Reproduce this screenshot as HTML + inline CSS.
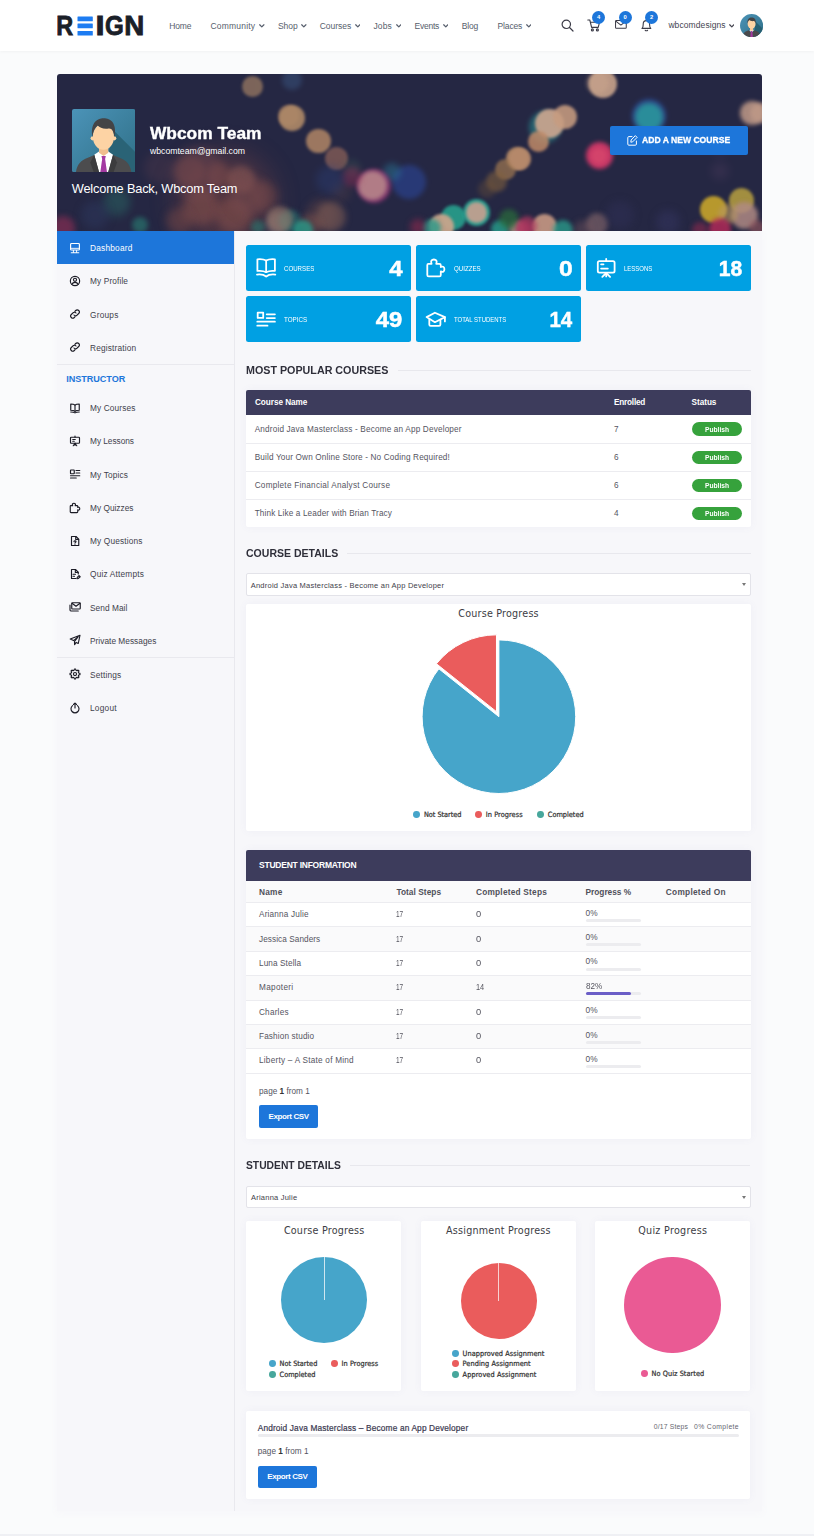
<!DOCTYPE html>
<html lang="en">
<head>
<meta charset="utf-8">
<title>Reign - Instructor Dashboard</title>
<style>
*{box-sizing:border-box;margin:0;padding:0}
html,body{width:814px;height:1536px;overflow:hidden;background:#fafbfc;font-family:"Liberation Sans",sans-serif;color:#4d4d5b}
#pg{position:relative;width:814px;height:1536px;overflow:hidden;background:#fafbfc}
.a{position:absolute;white-space:nowrap;line-height:1}
/* header */
#hdr{left:0;top:0;width:814px;height:51px;background:#fff;box-shadow:0 1px 3px rgba(0,0,0,.04)}
.nav{font-size:8.4px;color:#555d6b;top:21.6px}
.chev{display:inline-block;width:3.6px;height:3.6px;border-right:1px solid #4b4b57;border-bottom:1px solid #4b4b57;transform:rotate(45deg);margin-left:4px;position:relative;top:-2px}
.badge{width:13px;height:13px;border-radius:50%;background:#1d76da;color:#fff;font-size:5.8px;font-weight:bold;text-align:center;line-height:13px;top:11.2px}
/* banner */
#ban{left:57px;top:74.2px;width:705px;height:156.8px;border-radius:3px 3px 0 0;background:#252743;overflow:hidden}
.bk{position:absolute;border-radius:50%;filter:blur(1.6px)}
/* main */
#main{left:57px;top:231px;width:705px;height:1280px;background:#f7f7fa}
#vline{left:234px;top:231px;width:1px;height:1280px;background:#e9e9ee}
.sb{left:57px;width:177px;height:33.3px}
.sb span{position:absolute;left:33px;top:11.5px;font-size:8.3px;color:#3f3f4c;line-height:1}
.sb svg{position:absolute;left:12px;top:10.5px;width:12px;height:12px;fill:none;stroke:#1e1e28;stroke-width:1.7;stroke-linecap:round;stroke-linejoin:round}
.sb.on{background:#1d76da}
.sb.on span{color:#fff}
.sb.on svg{stroke:#fff}

.w{color:#fff}
#addbtn{left:610px;top:126.2px;width:138px;height:28.8px;background:#1d76da;border-radius:2px}
.stat{background:#00a0e3;border-radius:2.5px;height:46px;width:164.5px}
.stat .lb{position:absolute;left:37px;top:20.2px;font-size:6.1px;color:#fff;line-height:1;letter-spacing:-.1px}
.stat .nm{position:absolute;right:8.5px;top:11.5px;font-size:22.5px;font-weight:bold;color:#fff;line-height:1;letter-spacing:-.6px}
.stat svg{position:absolute;left:10px;top:13.5px;width:20px;height:20px;fill:none;stroke:#fff;stroke-width:1.5;stroke-linecap:round;stroke-linejoin:round}
.h2{font-size:11.1px;font-weight:bold;color:#2f2f3a;left:246px}
.hl{height:1px;background:#e8e8ed}
.card{background:#fff;border-radius:2px;box-shadow:0 0 9px rgba(95,95,170,.06)}
.th{background:#3d3c5c;border-radius:2px 2px 0 0}
.thx{font-size:8.2px;font-weight:bold;color:#fff}
.td{font-size:8.2px;color:#55555f}
.sep{height:1px;background:#ececf0;left:246px;width:504.5px}
.pub{width:50.2px;height:13.6px;border-radius:7px;background:#36a23c;color:#fff;font-size:7px;font-weight:bold;text-align:center;line-height:13.4px;left:691.8px}
.sel{left:246px;width:504.5px;height:22.8px;background:#fff;border:1px solid #e3e3e9;border-radius:2px}
.selt{font-size:6.9px;color:#4a4a55;left:251px}
.tri{width:0;height:0;border-left:2px solid transparent;border-right:2px solid transparent;border-top:3px solid #777}
.ct{font-family:"DejaVu Sans",sans-serif;color:#3c3c44}
.lg{font-family:"DejaVu Sans Condensed","DejaVu Sans",sans-serif;font-weight:normal;color:#333;-webkit-text-stroke:.22px #333}
.dot{width:6.8px;height:6.8px;border-radius:50%}
.btn{background:#1d76da;border-radius:2px;color:#fff;font-size:7.6px;font-weight:bold;text-align:center;width:59px;height:22px;line-height:22px}
.pbar{height:3.4px;border-radius:2px;background:#ececef}
.sm{font-size:7.9px;color:#55555f}
</style>
</head>
<body>
<div id="pg">

<!-- ================= HEADER ================= -->
<div id="hdr" class="a"></div>
<div id="logo" class="a" style="left:57px;top:14.5px;width:88px;height:22px">
<svg width="88" height="22" viewBox="0 0 88 22" style="position:absolute;left:0;top:0" role="img" aria-label="REIGN"><title>REIGN</title>
<rect x="20.5" y="1.4" width="15.3" height="4.8" rx="0.5" fill="#1d7cf2"/>
<rect x="20.5" y="8.6" width="15.3" height="4.6" rx="0.5" fill="#1d7cf2"/>
<rect x="20.5" y="16" width="15.3" height="4.6" rx="0.5" fill="#1d7cf2"/>
<g font-family="Liberation Sans, sans-serif" font-weight="bold" font-size="26.74" fill="#1a2029" stroke="#1a2029" stroke-width="0.8" stroke-linejoin="miter">
<text transform="translate(-0.67,20.2) scale(0.878,1)">R</text>
<text transform="translate(38.42,20.2) scale(1.22,1)">I</text>
<text transform="translate(48.01,20.2) scale(0.903,1)">G</text>
<text transform="translate(67.15,20.2) scale(1.037,1)">N</text>
</g>
</svg>
</div>
<!-- icons -->
<svg class="a" style="left:561px;top:18.5px" width="13" height="13" viewBox="0 0 13 13" fill="none" stroke="#3a3a46" stroke-width="1.2" stroke-linecap="round"><circle cx="5.3" cy="5.3" r="4.2"/><path d="M8.5 8.5 L12 12"/></svg>
<svg class="a" style="left:587px;top:18.5px" width="14" height="13" viewBox="0 0 14 13" fill="none" stroke="#3a3a46" stroke-width="1.1" stroke-linecap="round" stroke-linejoin="round"><path d="M0.8 1 H2.8 L4.6 8.4 H11.2 L12.6 3.2 H3.4"/><circle cx="5.4" cy="10.9" r="1"/><circle cx="10.4" cy="10.9" r="1"/></svg>
<svg class="a" style="left:614.5px;top:20.4px" width="12" height="9" viewBox="0 0 13 10" preserveAspectRatio="none" fill="none" stroke="#3a3a46" stroke-width="1.1" stroke-linejoin="round"><rect x="0.6" y="0.6" width="11.6" height="8.6" rx="0.8"/><path d="M0.8 1.2 L6.4 5.6 L12 1.2"/></svg>
<svg class="a" style="left:641px;top:18.5px" width="11" height="13" viewBox="0 0 11 13" fill="none" stroke="#3a3a46" stroke-width="1.1" stroke-linecap="round" stroke-linejoin="round"><path d="M1 9.4 C2.4 8.2 2.2 6.6 2.2 5 C2.2 3 3.6 1.6 5.4 1.6 C7.2 1.6 8.6 3 8.6 5 C8.6 6.6 8.4 8.2 9.8 9.4 Z"/><path d="M4.2 11.2 C4.6 12 6.2 12 6.6 11.2"/></svg>
<div class="a badge" style="left:592.2px">4</div>
<div class="a badge" style="left:618.6px">0</div>
<div class="a badge" style="left:645.1px">2</div>
<svg class="a" style="left:739.6px;top:14.2px" width="23.2" height="23.2" viewBox="0 0 64 64"><defs><clipPath id="cpa"><circle cx="32" cy="32" r="32"/></clipPath><linearGradient id="avg" x1="0" y1="0" x2="1" y2="1"><stop offset="0" stop-color="#4b93b8"/><stop offset="1" stop-color="#2f6f86"/></linearGradient></defs>
<g clip-path="url(#cpa)"><rect width="64" height="64" fill="url(#avg)"/><path d="M42 20 L64 42 V64 H40 Z" fill="#265f72"/><path d="M8 64 C8 52 14 48 24 45 L32 52 L40 45 C50 48 56 52 56 64 Z" fill="#4a4a4c"/><path d="M26 44 L32 52 L38 44 Z" fill="#fff"/><path d="M30 47 H34 L35.5 64 H28.5 Z" fill="#a33aa0"/><rect x="27.5" y="36" width="9" height="10" fill="#f4c696"/><ellipse cx="32" cy="27" rx="11" ry="13.5" fill="#fdd3a4"/><path d="M20.5 27 C19 14 26 10 32 10 C39 10 45 14 43.5 27 C42 21 40 19 37 19.5 C32 20.5 28 18 26 16.5 C23 19 21.5 22 20.5 27 Z" fill="#444446"/></g></svg>

<!-- ================= BANNER ================= -->
<div id="ban" class="a">
<i class="bk" style="left:120.0px;top:77.5px;width:96.0px;height:96.0px;background:#8a4a44;opacity:0.42;filter:blur(14px)"></i>
<i class="bk" style="left:118.0px;top:81.5px;width:30.0px;height:30.0px;background:#8a5048;opacity:0.38;filter:blur(3.5px)"></i>
<i class="bk" style="left:150.0px;top:88.5px;width:24.0px;height:24.0px;background:#8a5048;opacity:0.34;filter:blur(3.5px)"></i>
<i class="bk" style="left:170.0px;top:91.5px;width:28.0px;height:28.0px;background:#a0645a;opacity:0.45;filter:blur(3px)"></i>
<i class="bk" style="left:126.0px;top:114.5px;width:36.0px;height:36.0px;background:#94584e;opacity:0.42;filter:blur(4px)"></i>
<i class="bk" style="left:159.0px;top:122.5px;width:36.0px;height:36.0px;background:#94584e;opacity:0.42;filter:blur(4px)"></i>
<i class="bk" style="left:191.0px;top:106.5px;width:30.0px;height:30.0px;background:#8a5048;opacity:0.36;filter:blur(4px)"></i>
<i class="bk" style="left:209.0px;top:136.5px;width:24.0px;height:24.0px;background:#9a8a88;opacity:0.5;filter:blur(3px)"></i>
<i class="bk" style="left:109.0px;top:133.5px;width:26.0px;height:26.0px;background:#8a5048;opacity:0.4;filter:blur(4px)"></i>
<i class="bk" style="left:249.0px;top:124.5px;width:32.0px;height:32.0px;background:#7a5048;opacity:0.35;filter:blur(4px)"></i>
<i class="bk" style="left:274.0px;top:108.0px;width:20.0px;height:20.0px;background:#6a4a48;opacity:0.25;filter:blur(4px)"></i>
<i class="bk" style="left:75.0px;top:142.5px;width:16.0px;height:16.0px;background:#2a8a7a;opacity:0.55;filter:blur(2.5px)"></i>
<i class="bk" style="left:194.0px;top:145.5px;width:14.0px;height:14.0px;background:#2a8a7a;opacity:0.5;filter:blur(2.5px)"></i>
<i class="bk" style="left:49.0px;top:113.5px;width:24.0px;height:24.0px;background:#2a6060;opacity:0.3;filter:blur(4px)"></i>
<i class="bk" style="left:184.5px;top:2.0px;width:21.0px;height:21.0px;background:#9a7a62;opacity:0.75;filter:blur(1.6px)"></i>
<i class="bk" style="left:221.1px;top:30.7px;width:21.0px;height:21.0px;background:#9a7660;opacity:0.7;filter:blur(1.6px)"></i>
<i class="bk" style="left:115.0px;top:72.5px;width:52.0px;height:52.0px;background:#7a4a50;opacity:0.42;filter:blur(5px)"></i>
<i class="bk" style="left:172.0px;top:102.5px;width:40.0px;height:40.0px;background:#7a4c50;opacity:0.38;filter:blur(5px)"></i>
<i class="bk" style="left:87.0px;top:77.5px;width:32.0px;height:32.0px;background:#6a4450;opacity:0.25;filter:blur(5px)"></i>
<i class="bk" style="left:-6.0px;top:141.5px;width:24.0px;height:24.0px;background:#a03058;opacity:0.55;filter:blur(3px)"></i>
<i class="bk" style="left:45.0px;top:115.5px;width:28.0px;height:28.0px;background:#2a6a66;opacity:0.3;filter:blur(4px)"></i>
<i class="bk" style="left:222.0px;top:135.5px;width:22.0px;height:22.0px;background:#2a8a80;opacity:0.5;filter:blur(2.5px)"></i>
<i class="bk" style="left:24.0px;top:126.5px;width:28.0px;height:28.0px;background:#31406a;opacity:0.35;filter:blur(4px)"></i>
<i class="bk" style="left:225.0px;top:-3.8px;width:20.0px;height:20.0px;background:#3a5580;opacity:0.5;filter:blur(2.5px)"></i>
<i class="bk" style="left:221.7px;top:30.7px;width:26.0px;height:26.0px;background:#b08a68;opacity:0.9;filter:blur(1.5px)"></i>
<i class="bk" style="left:249.2px;top:54.5px;width:24.6px;height:24.6px;background:#ad8364;opacity:0.88;filter:blur(1.5px)"></i>
<i class="bk" style="left:267.8px;top:73.0px;width:23.0px;height:23.0px;background:#8a6058;opacity:0.75;filter:blur(1.8px)"></i>
<i class="bk" style="left:286.0px;top:84.5px;width:18.0px;height:18.0px;background:#3a5a55;opacity:0.3;filter:blur(3px)"></i>
<i class="bk" style="left:335.0px;top:90.5px;width:34.0px;height:34.0px;background:#2b4596;opacity:0.62;filter:blur(2.5px)"></i>
<i class="bk" style="left:326.0px;top:88.5px;width:18.0px;height:18.0px;background:#2a7a9a;opacity:0.45;filter:blur(3px)"></i>
<i class="bk" style="left:299.7px;top:94.5px;width:34.0px;height:34.0px;background:#b03a82;opacity:0.6;filter:blur(2.2px)"></i>
<i class="bk" style="left:300.5px;top:97.0px;width:29.0px;height:29.0px;background:#bb8a8c;opacity:0.85;filter:blur(2px)"></i>
<i class="bk" style="left:285.0px;top:92.5px;width:20.0px;height:20.0px;background:#a03058;opacity:0.4;filter:blur(3px)"></i>
<i class="bk" style="left:259.0px;top:91.5px;width:28.0px;height:28.0px;background:#2b3f78;opacity:0.4;filter:blur(4px)"></i>
<i class="bk" style="left:210.0px;top:131.5px;width:26.0px;height:26.0px;background:#9a7868;opacity:0.55;filter:blur(2.5px)"></i>
<i class="bk" style="left:258.7px;top:127.9px;width:30.0px;height:30.0px;background:#8a6458;opacity:0.5;filter:blur(3px)"></i>
<i class="bk" style="left:242.0px;top:139.5px;width:22.0px;height:22.0px;background:#8a5a50;opacity:0.4;filter:blur(3px)"></i>
<i class="bk" style="left:236.0px;top:145.5px;width:20.0px;height:20.0px;background:#2a9a88;opacity:0.8;filter:blur(2px)"></i>
<i class="bk" style="left:384.1px;top:130.4px;width:25.0px;height:25.0px;background:#279a8a;opacity:0.95;filter:blur(1.5px)"></i>
<i class="bk" style="left:406.1px;top:124.8px;width:27.0px;height:27.0px;background:#2aa090;opacity:0.95;filter:blur(1.5px)"></i>
<i class="bk" style="left:409.1px;top:127.8px;width:21.0px;height:21.0px;background:#c0a090;opacity:0.95;filter:blur(1.8px)"></i>
<i class="bk" style="left:371.8px;top:140.0px;width:25.0px;height:25.0px;background:#c8a58c;opacity:0.95;filter:blur(1.6px)"></i>
<i class="bk" style="left:366.0px;top:144.5px;width:18.0px;height:18.0px;background:#279a8a;opacity:0.8;filter:blur(2px)"></i>
<i class="bk" style="left:434.0px;top:145.5px;width:18.0px;height:18.0px;background:#279a8a;opacity:0.85;filter:blur(2px)"></i>
<i class="bk" style="left:452.0px;top:146.5px;width:16.0px;height:16.0px;background:#b89888;opacity:0.8;filter:blur(2px)"></i>
<i class="bk" style="left:353.0px;top:144.5px;width:16.0px;height:16.0px;background:#a02a50;opacity:0.5;filter:blur(3px)"></i>
<i class="bk" style="left:442.0px;top:134.5px;width:20.0px;height:20.0px;background:#2a6e3c;opacity:0.7;filter:blur(2.5px)"></i>
<i class="bk" style="left:449.0px;top:72.5px;width:23.0px;height:23.0px;background:#b58a66;opacity:0.9;filter:blur(1.5px)"></i>
<i class="bk" style="left:438.3px;top:84.8px;width:21.0px;height:21.0px;background:#9a7450;opacity:0.75;filter:blur(1.8px)"></i>
<i class="bk" style="left:429.1px;top:97.0px;width:21.0px;height:21.0px;background:#80603e;opacity:0.6;filter:blur(2px)"></i>
<i class="bk" style="left:421.0px;top:105.5px;width:18.0px;height:18.0px;background:#6a5038;opacity:0.4;filter:blur(2.5px)"></i>
<i class="bk" style="left:459.0px;top:146.5px;width:16.0px;height:16.0px;background:#b03060;opacity:0.7;filter:blur(2px)"></i>
<i class="bk" style="left:532.0px;top:-4.7px;width:28.0px;height:28.0px;background:#c9a48c;opacity:0.9;filter:blur(1.8px)"></i>
<i class="bk" style="left:530.0px;top:-2.5px;width:22.0px;height:22.0px;background:#c9a48c;opacity:0.6;filter:blur(2px)"></i>
<i class="bk" style="left:472.0px;top:36.5px;width:32.0px;height:32.0px;background:#2a9a9a;opacity:0.5;filter:blur(2.5px)"></i>
<i class="bk" style="left:477.5px;top:35.0px;width:29.0px;height:29.0px;background:#cfa890;opacity:0.9;filter:blur(1.8px)"></i>
<i class="bk" style="left:496.0px;top:31.1px;width:24.0px;height:24.0px;background:#c79c80;opacity:0.88;filter:blur(1.8px)"></i>
<i class="bk" style="left:471.0px;top:57.0px;width:21.0px;height:21.0px;background:#c08a68;opacity:0.85;filter:blur(1.8px)"></i>
<i class="bk" style="left:452.0px;top:73.5px;width:22.0px;height:22.0px;background:#b88a6c;opacity:0.85;filter:blur(1.8px)"></i>
<i class="bk" style="left:575.0px;top:24.5px;width:34.0px;height:34.0px;background:#3058b0;opacity:0.6;filter:blur(2.5px)"></i>
<i class="bk" style="left:578.0px;top:28.5px;width:28.0px;height:28.0px;background:#2aa0a0;opacity:0.8;filter:blur(2.5px)"></i>
<i class="bk" style="left:528.8px;top:67.4px;width:27.0px;height:27.0px;background:#d03868;opacity:0.95;filter:blur(2px)"></i>
<i class="bk" style="left:534.0px;top:73.5px;width:16.0px;height:16.0px;background:#e05070;opacity:0.5;filter:blur(2px)"></i>
<i class="bk" style="left:683.0px;top:26.5px;width:24.0px;height:24.0px;background:#c09a88;opacity:0.85;filter:blur(2px)"></i>
<i class="bk" style="left:693.0px;top:28.5px;width:20.0px;height:20.0px;background:#c09a88;opacity:0.8;filter:blur(2px)"></i>
<i class="bk" style="left:643.1px;top:121.7px;width:27.0px;height:27.0px;background:#c4a22c;opacity:0.92;filter:blur(1.8px)"></i>
<i class="bk" style="left:671.5px;top:113.5px;width:25.0px;height:25.0px;background:#b8a040;opacity:0.85;filter:blur(1.8px)"></i>
<i class="bk" style="left:673.5px;top:128.0px;width:27.0px;height:27.0px;background:#b08a84;opacity:0.85;filter:blur(2px)"></i>
<i class="bk" style="left:661.0px;top:129.5px;width:20.0px;height:20.0px;background:#b89860;opacity:0.6;filter:blur(2px)"></i>
<i class="bk" style="left:651.7px;top:143.5px;width:22.0px;height:22.0px;background:#b02a58;opacity:0.85;filter:blur(2px)"></i>
<i class="bk" style="left:635.0px;top:147.5px;width:16.0px;height:16.0px;background:#a02a50;opacity:0.5;filter:blur(2.5px)"></i>
<i class="bk" style="left:692.0px;top:145.5px;width:16.0px;height:16.0px;background:#9a5a60;opacity:0.6;filter:blur(2px)"></i>
<i class="bk" style="left:475.1px;top:140.0px;width:25.0px;height:25.0px;background:#c89a84;opacity:0.9;filter:blur(1.8px)"></i>
<i class="bk" style="left:460.0px;top:141.5px;width:20.0px;height:20.0px;background:#b03a60;opacity:0.7;filter:blur(2px)"></i>
<i class="bk" style="left:496.0px;top:145.5px;width:20.0px;height:20.0px;background:#2a9a8a;opacity:0.8;filter:blur(2px)"></i>
<i class="bk" style="left:529.0px;top:138.5px;width:22.0px;height:22.0px;background:#a07a78;opacity:0.5;filter:blur(2.5px)"></i>
<i class="bk" style="left:517.0px;top:145.5px;width:18.0px;height:18.0px;background:#7a5a60;opacity:0.4;filter:blur(3px)"></i>
<i class="bk" style="left:653.7px;top:87.5px;width:18.0px;height:18.0px;background:#6a4a70;opacity:0.22;filter:blur(5px)"></i>
<i class="bk" style="left:654.7px;top:67.5px;width:16.0px;height:16.0px;background:#50406a;opacity:0.2;filter:blur(5px)"></i>
<i class="bk" style="left:599.0px;top:135.5px;width:24.0px;height:24.0px;background:#3a3a6a;opacity:0.4;filter:blur(4px)"></i>
<i class="bk" style="left:549.0px;top:126.5px;width:28.0px;height:28.0px;background:#33335c;opacity:0.4;filter:blur(4px)"></i>
</div>


<!-- banner content -->
<svg class="a" style="left:72px;top:109px" width="63.3" height="63.3" viewBox="0 0 64 64"><defs><clipPath id="cpb"><rect width="64" height="64" rx="2"/></clipPath></defs>
<g clip-path="url(#cpb)"><rect width="64" height="64" fill="url(#avg)"/><path d="M42.500 22 L64 43.500 V64 H44 L36 48 Z" fill="#2a6376"/>
<path d="M4 64 C5 56 9 51.700 16 49.200 L25 45.400 L32 54 L39 45.400 L48 49.200 C55 51.700 59 56 60 64 Z" fill="#4c4c4e"/>
<path d="M22.500 46.300 L28 42.500 H36 L41.500 46.300 L36.600 64 H27.400 Z" fill="#fff"/>
<path d="M22.500 46.300 L27.400 64 H22 L18.500 54 Z" fill="#3c3c3e"/><path d="M41.500 46.300 L36.600 64 H42 L45.500 54 Z" fill="#3c3c3e"/>
<path d="M29.800 47.400 H34.200 L33.500 50.600 L35.400 64 H28.600 L30.500 50.600 Z" fill="#a43aa2"/>
<path d="M27.300 37 H36.700 V44.300 L32 47.600 L27.300 44.300 Z" fill="#efbe8e"/>
<circle cx="20.900" cy="29.700" r="2.100" fill="#fdd3a4"/><circle cx="42.700" cy="29.700" r="2.100" fill="#fdd3a4"/>
<ellipse cx="31.800" cy="28" rx="10.700" ry="13.300" fill="#fdd3a4"/>
<path d="M20.600 28.500 C18.300 14 25.500 9.300 32 9.300 C39 9.300 45.700 14 43 28.500 C42.300 22 40 19.200 37 19.700 C32 20.700 28 18.700 26 16.700 C23 19.200 21.500 22.300 20.600 28.500 Z" fill="#444446"/></g></svg>



<div id="addbtn" class="a"></div>
<svg class="a" style="left:626.5px;top:135px" width="11" height="11" viewBox="0 0 11 11" fill="none" stroke="#fff" stroke-width="1" stroke-linecap="round" stroke-linejoin="round"><path d="M5 1.6 H1.8 C1.2 1.6 0.8 2 0.8 2.6 V9.2 C0.8 9.800 1.2 10.2 1.8 10.2 H8.400 C9 10.2 9.400 9.800 9.400 9.200 V6"/><path d="M8.600 0.900 L10.100 2.400 L5.600 6.900 L3.800 7.200 L4.100 5.400 Z"/></svg>


<!-- ================= MAIN ================= -->
<div class="a " style="top:21.85px;font-size:8.5px;left:169.30px;color:#565e6c;letter-spacing:-0.197px;">Home</div>
<div class="a " style="top:21.85px;font-size:8.5px;left:210.40px;color:#565e6c;letter-spacing:0.213px;">Community</div>
<svg class="a" style="left:259.00px;top:24.00px" width="5.6" height="4" viewBox="0 0 5.6 4" fill="none" stroke="#565e6c" stroke-width="1.25" stroke-linecap="round" stroke-linejoin="round"><path d="M0.7 0.8 L2.8 2.9 L4.9 0.8"/></svg>
<div class="a " style="top:21.85px;font-size:8.5px;left:277.90px;color:#565e6c;letter-spacing:-0.040px;">Shop</div>
<svg class="a" style="left:301.00px;top:24.00px" width="5.6" height="4" viewBox="0 0 5.6 4" fill="none" stroke="#565e6c" stroke-width="1.25" stroke-linecap="round" stroke-linejoin="round"><path d="M0.7 0.8 L2.8 2.9 L4.9 0.8"/></svg>
<div class="a " style="top:21.85px;font-size:8.5px;left:319.70px;color:#565e6c;letter-spacing:-0.022px;">Courses</div>
<svg class="a" style="left:354.80px;top:24.00px" width="5.6" height="4" viewBox="0 0 5.6 4" fill="none" stroke="#565e6c" stroke-width="1.25" stroke-linecap="round" stroke-linejoin="round"><path d="M0.7 0.8 L2.8 2.9 L4.9 0.8"/></svg>
<div class="a " style="top:21.85px;font-size:8.5px;left:373.50px;color:#565e6c;letter-spacing:0.108px;">Jobs</div>
<svg class="a" style="left:395.60px;top:24.00px" width="5.6" height="4" viewBox="0 0 5.6 4" fill="none" stroke="#565e6c" stroke-width="1.25" stroke-linecap="round" stroke-linejoin="round"><path d="M0.7 0.8 L2.8 2.9 L4.9 0.8"/></svg>
<div class="a " style="top:21.85px;font-size:8.5px;left:414.50px;color:#565e6c;letter-spacing:-0.233px;">Events</div>
<svg class="a" style="left:442.60px;top:24.00px" width="5.6" height="4" viewBox="0 0 5.6 4" fill="none" stroke="#565e6c" stroke-width="1.25" stroke-linecap="round" stroke-linejoin="round"><path d="M0.7 0.8 L2.8 2.9 L4.9 0.8"/></svg>
<div class="a " style="top:21.85px;font-size:8.5px;left:461.70px;color:#565e6c;letter-spacing:-0.129px;">Blog</div>
<div class="a " style="top:21.85px;font-size:8.5px;left:497.60px;color:#565e6c;letter-spacing:-0.153px;">Places</div>
<svg class="a" style="left:525.80px;top:24.00px" width="5.6" height="4" viewBox="0 0 5.6 4" fill="none" stroke="#565e6c" stroke-width="1.25" stroke-linecap="round" stroke-linejoin="round"><path d="M0.7 0.8 L2.8 2.9 L4.9 0.8"/></svg>
<div class="a " style="top:20.65px;font-size:8.5px;left:668.40px;color:#454550;letter-spacing:0.089px;">wbcomdesigns</div>
<svg class="a" style="left:728.60px;top:23.60px" width="5.6" height="4" viewBox="0 0 5.6 4" fill="none" stroke="#454550" stroke-width="1.25" stroke-linecap="round" stroke-linejoin="round"><path d="M0.7 0.8 L2.8 2.9 L4.9 0.8"/></svg>
<div class="a w" style="top:125.75px;font-size:15.7px;left:149.80px;font-weight:bold;-webkit-text-stroke:.35px #fff;transform:scaleX(1.1058);transform-origin:left center;">Wbcom Team</div>
<div class="a w" style="top:146.85px;font-size:8.7px;left:150.00px;letter-spacing:-0.013px;">wbcomteam@gmail.com</div>
<div class="a w" style="top:183.20px;font-size:12.8px;left:71.80px;letter-spacing:-0.196px;">Welcome Back, Wbcom Team</div>
<div class="a w" style="top:135.95px;font-size:9.3px;left:642.30px;font-weight:bold;-webkit-text-stroke:.3px #fff;transform:scaleX(0.9246);transform-origin:left center;">ADD A NEW COURSE</div>
<div class="a " style="left:57.00px;top:231.00px;width:705.00px;height:1280.00px;background:#f7f7fa;box-shadow:0 2px 7px 1px #f7f7fa;clip-path:inset(0 -12px -12px -12px)"></div>
<div class="a " style="left:234.00px;top:231.00px;width:1.00px;height:1280.00px;background:#e9e9ee"></div>
<div class="a " style="left:57.00px;top:231.00px;width:177.00px;height:33.20px;background:#1d76da"></div>
<svg class="a" style="left:69.2px;top:241.80px" width="12" height="12" viewBox="0 0 24 24" fill="none" stroke="#fff" stroke-width="2.3" stroke-linecap="round" stroke-linejoin="round"><rect x="3.2" y="2.95" width="17.6" height="13.1" rx="1.8"/><path d="M3.6 12.700 H20.400" stroke-width="1.800"/><path d="M4.500 21.400 H19.500"/><path d="M8.800 16.800 V21" stroke-width="1.900"/><path d="M15.200 16.800 V21" stroke-width="1.900"/></svg>
<div class="a " style="top:244.25px;font-size:8.3px;left:90.00px;color:#fff;letter-spacing:0.223px;">Dashboard</div>
<svg class="a" style="left:69.2px;top:274.90px" width="12" height="12" viewBox="0 0 24 24" fill="none" stroke="#1b1b25" stroke-width="2.3" stroke-linecap="round" stroke-linejoin="round"><circle cx="12" cy="12" r="9.3"/><circle cx="12" cy="9.6" r="3.1"/><path d="M6 18.4 C7.2 15.2 9.5 14.6 12 14.6 C14.5 14.6 16.8 15.2 18 18.4"/></svg>
<div class="a " style="top:277.35px;font-size:8.3px;left:90.00px;color:#3f3f4c;letter-spacing:0.121px;">My Profile</div>
<svg class="a" style="left:69.2px;top:308.10px" width="12" height="12" viewBox="0 0 24 24" fill="none" stroke="#1b1b25" stroke-width="2.3" stroke-linecap="round" stroke-linejoin="round"><path d="M10 14 a4.2 4.2 0 0 0 6 0.4 l3.4 -3.4 a4.2 4.2 0 0 0 -6 -6 l-1.6 1.6"/><path d="M14 10 a4.2 4.2 0 0 0 -6 -0.4 l-3.4 3.4 a4.2 4.2 0 0 0 6 6 l1.6 -1.6"/></svg>
<div class="a " style="top:310.55px;font-size:8.3px;left:90.00px;color:#3f3f4c;letter-spacing:0.230px;">Groups</div>
<svg class="a" style="left:69.2px;top:341.30px" width="12" height="12" viewBox="0 0 24 24" fill="none" stroke="#1b1b25" stroke-width="2.3" stroke-linecap="round" stroke-linejoin="round"><path d="M10 14 a4.2 4.2 0 0 0 6 0.4 l3.4 -3.4 a4.2 4.2 0 0 0 -6 -6 l-1.6 1.6"/><path d="M14 10 a4.2 4.2 0 0 0 -6 -0.4 l-3.4 3.4 a4.2 4.2 0 0 0 6 6 l1.6 -1.6"/></svg>
<div class="a " style="top:343.75px;font-size:8.3px;left:90.00px;color:#3f3f4c;letter-spacing:0.160px;">Registration</div>
<div class="a " style="left:57.00px;top:364.30px;width:177.00px;height:1.00px;background:#e9e9ee"></div>
<div class="a " style="top:374.75px;font-size:9.1px;left:66.20px;color:#1d76da;font-weight:bold;letter-spacing:-0.045px;">INSTRUCTOR</div>
<svg class="a" style="left:69.2px;top:401.70px" width="12" height="12" viewBox="0 0 24 24" fill="none" stroke="#1b1b25" stroke-width="2.3" stroke-linecap="round" stroke-linejoin="round"><path d="M12 6.2 C10 4.400 7 4 3.500 4 V16.500 C7 16.500 10 17 12 18.700 C14 17 17 16.500 20.500 16.500 V4 C17 4 14 4.400 12 6.200 Z"/><path d="M12 6.2 V18.7"/><path d="M3.5 20 C7 20 10 20.300 12 21.800 C14 20.300 17 20 20.500 20"/></svg>
<div class="a " style="top:404.15px;font-size:8.3px;left:90.00px;color:#3f3f4c;letter-spacing:0.123px;">My Courses</div>
<svg class="a" style="left:69.2px;top:435.00px" width="12" height="12" viewBox="0 0 24 24" fill="none" stroke="#1b1b25" stroke-width="2.3" stroke-linecap="round" stroke-linejoin="round"><rect x="3" y="4.5" width="18" height="12" rx="1.5"/><path d="M12 2.2 V4.5"/><path d="M7.5 9 H12.5"/><path d="M7.5 12.5 H10.5"/><path d="M8.5 21.500 L12 16.500 L15.500 21.500"/><path d="M12 16.5 V21"/></svg>
<div class="a " style="top:437.45px;font-size:8.3px;left:90.00px;color:#3f3f4c;letter-spacing:-0.028px;">My Lessons</div>
<svg class="a" style="left:69.2px;top:468.20px" width="12" height="12" viewBox="0 0 24 24" fill="none" stroke="#1b1b25" stroke-width="2.3" stroke-linecap="round" stroke-linejoin="round"><rect x="3" y="4" width="7.5" height="7.5" rx="0.8"/><path d="M14 5 H21.500"/><path d="M14 10 H21.500"/><path d="M3 15.500 H21.500"/><path d="M3 20 H14.500"/></svg>
<div class="a " style="top:470.65px;font-size:8.3px;left:90.00px;color:#3f3f4c;letter-spacing:0.152px;">My Topics</div>
<svg class="a" style="left:69.2px;top:501.50px" width="12" height="12" viewBox="0 0 24 24" fill="none" stroke="#1b1b25" stroke-width="2.3" stroke-linecap="round" stroke-linejoin="round"><g transform="translate(-10.04,-13.6) scale(1.11)" stroke-width="2.07"><path d="M12.300 18.800 H15.600 C14.300 16 15.800 14.500 17.900 14.500 C20 14.500 21.500 16 20.200 18.800 H23.400 C24.200 18.800 24.800 19.400 24.800 20.200 V22 C27.200 20.800 28.400 22.200 28.400 24.200 C28.400 26.200 27.200 27.600 24.800 26.400 V30 C24.800 30.800 24.200 31.400 23.400 31.400 H12.700 C11.900 31.400 11.300 30.800 11.300 30 V20.200 C11.300 19.400 11.700 18.800 12.300 18.800 Z"/></g></svg>
<div class="a " style="top:503.95px;font-size:8.3px;left:90.00px;color:#3f3f4c;letter-spacing:0.016px;">My Quizzes</div>
<svg class="a" style="left:69.2px;top:534.80px" width="12" height="12" viewBox="0 0 24 24" fill="none" stroke="#1b1b25" stroke-width="2.3" stroke-linecap="round" stroke-linejoin="round"><path d="M5 3 H14 L19.500 8.500 V21 H5 Z"/><path d="M13.5 3.3 V9 H19.200"/><path d="M10 13.200 C10 11.200 14 11.200 14 13.400 C14 14.800 12 14.800 12 16.200"/><path d="M12 18.400 V18.500"/></svg>
<div class="a " style="top:537.25px;font-size:8.3px;left:90.00px;color:#3f3f4c;letter-spacing:0.155px;">My Questions</div>
<svg class="a" style="left:69.2px;top:568.00px" width="12" height="12" viewBox="0 0 24 24" fill="none" stroke="#1b1b25" stroke-width="2.3" stroke-linecap="round" stroke-linejoin="round"><path d="M14 21 H5 V3 H13 L18.500 8.500 V12"/><path d="M12.700 3.300 V9 H18.200"/><path d="M8 12.500 H13"/><path d="M8 16.500 H11"/><path d="M16 21.500 L16.600 18.600 L20 15.200 L22.300 17.500 L18.900 20.900 Z"/></svg>
<div class="a " style="top:570.45px;font-size:8.3px;left:90.00px;color:#3f3f4c;letter-spacing:0.188px;">Quiz Attempts</div>
<svg class="a" style="left:69.2px;top:601.20px" width="12" height="12" viewBox="0 0 24 24" fill="none" stroke="#1b1b25" stroke-width="2.3" stroke-linecap="round" stroke-linejoin="round"><rect x="5.500" y="3.500" width="17" height="12.500" rx="1.5"/><path d="M6 4.500 L14 10.500 L22 4.500"/><path d="M2 8 V18.200 C2 19.200 2.800 20 3.800 20 H18.500"/></svg>
<div class="a " style="top:603.65px;font-size:8.3px;left:90.00px;color:#3f3f4c;letter-spacing:0.055px;">Send Mail</div>
<svg class="a" style="left:69.2px;top:634.40px" width="12" height="12" viewBox="0 0 24 24" fill="none" stroke="#1b1b25" stroke-width="2.3" stroke-linecap="round" stroke-linejoin="round"><path d="M22 2.500 L2.500 10 L9 13.200 L18.500 5.500 L11 15 L11.200 21.200 L14.400 16.800 L18.500 19 Z"/></svg>
<div class="a " style="top:636.85px;font-size:8.3px;left:90.00px;color:#3f3f4c;letter-spacing:0.028px;">Private Messages</div>
<div class="a " style="left:57.00px;top:657.20px;width:177.00px;height:1.00px;background:#e9e9ee"></div>
<svg class="a" style="left:69.2px;top:668.30px" width="12" height="12" viewBox="0 0 24 24" fill="none" stroke="#1b1b25" stroke-width="2.3" stroke-linecap="round" stroke-linejoin="round"><path d="M10.70 2.08 L13.30 2.08 L13.98 4.56 L15.86 5.34 L18.09 4.07 L19.93 5.91 L18.66 8.14 L19.44 10.02 L21.92 10.70 L21.92 13.30 L19.44 13.98 L18.66 15.86 L19.93 18.09 L18.09 19.93 L15.86 18.66 L13.98 19.44 L13.30 21.92 L10.70 21.92 L10.02 19.44 L8.14 18.66 L5.91 19.93 L4.07 18.09 L5.34 15.86 L4.56 13.98 L2.08 13.30 L2.08 10.70 L4.56 10.02 L5.34 8.14 L4.07 5.91 L5.91 4.07 L8.14 5.34 L10.02 4.56 Z"/><circle cx="12" cy="12" r="3.1"/></svg>
<div class="a " style="top:670.75px;font-size:8.3px;left:90.00px;color:#3f3f4c;letter-spacing:0.164px;">Settings</div>
<svg class="a" style="left:69.2px;top:701.50px" width="12" height="12" viewBox="0 0 24 24" fill="none" stroke="#1b1b25" stroke-width="2.3" stroke-linecap="round" stroke-linejoin="round"><path d="M7.200 7.200 A8 8 0 1 0 16.800 7.200"/><path d="M12 2.500 V12"/><path d="M9 5 L12 2.200 L15 5"/></svg>
<div class="a " style="top:703.95px;font-size:8.3px;left:90.00px;color:#3f3f4c;letter-spacing:0.235px;">Logout</div>
<div class="a " style="left:245.80px;top:245.40px;width:165.00px;height:45.60px;background:#00a0e3;border-radius:2.5px"></div>
<svg class="a" style="left:245.8px;top:245.4px" width="46" height="46" viewBox="0 0 46 46" fill="none" stroke="#fff" stroke-width="1.8" stroke-linecap="round" stroke-linejoin="round"><path d="M20.15 15.600 C17.800 14.200 14.500 14 11.400 14.300 V25.900 C14.500 25.600 17.800 25.800 20.150 27.200 C22.500 25.800 25.800 25.600 28.900 25.900 V14.300 C25.800 14 22.500 14.200 20.150 15.600 Z"/><path d="M20.15 15.600 V27"/><path d="M11 29.600 C14.500 29.200 17.800 29.600 20.150 31.500 C22.500 29.600 25.800 29.200 29.300 29.600"/></svg>
<div class="a w" style="top:264.70px;font-size:7.2px;left:283.60px;transform:scaleX(0.8524);transform-origin:left center;">COURSES</div>
<div class="a w" style="top:256.55px;font-size:22.7px;right:411.80px;font-weight:bold;-webkit-text-stroke:.5px #fff;transform:scaleX(1.0535);transform-origin:right center;">4</div>
<div class="a " style="left:415.80px;top:245.40px;width:165.00px;height:45.60px;background:#00a0e3;border-radius:2.5px"></div>
<svg class="a" style="left:415.8px;top:245.4px" width="46" height="46" viewBox="0 0 46 46" fill="none" stroke="#fff" stroke-width="1.8" stroke-linecap="round" stroke-linejoin="round"><path d="M12.300 18.800 H15.600 C14.300 16 15.800 14.500 17.900 14.500 C20 14.500 21.500 16 20.200 18.800 H23.400 C24.200 18.800 24.800 19.400 24.800 20.200 V22 C27.200 20.800 28.400 22.200 28.400 24.200 C28.400 26.200 27.200 27.600 24.800 26.400 V30 C24.800 30.800 24.200 31.400 23.400 31.400 H12.700 C11.900 31.400 11.300 30.800 11.300 30 V20.200 C11.300 19.400 11.700 18.800 12.300 18.800 Z"/></svg>
<div class="a w" style="top:264.70px;font-size:7.2px;left:453.60px;transform:scaleX(0.8570);transform-origin:left center;">QUIZZES</div>
<div class="a w" style="top:256.55px;font-size:22.7px;right:241.80px;font-weight:bold;-webkit-text-stroke:.5px #fff;transform:scaleX(1.0851);transform-origin:right center;">0</div>
<div class="a " style="left:585.70px;top:245.40px;width:165.00px;height:45.60px;background:#00a0e3;border-radius:2.5px"></div>
<svg class="a" style="left:585.7px;top:245.4px" width="46" height="46" viewBox="0 0 46 46" fill="none" stroke="#fff" stroke-width="1.8" stroke-linecap="round" stroke-linejoin="round"><rect x="11.800" y="16.100" width="16.800" height="11.600" rx="1.600"/><path d="M20.200 13.900 V16"/><path d="M15.100 19.300 H17.500"/><path d="M15.100 23.600 H21.800"/><path d="M16.300 31.800 L20.200 28 L24.100 31.800"/><path d="M20.200 28 V31.400"/></svg>
<div class="a w" style="top:264.70px;font-size:7.2px;left:623.50px;transform:scaleX(0.8302);transform-origin:left center;">LESSONS</div>
<div class="a w" style="top:256.55px;font-size:22.7px;right:71.90px;font-weight:bold;-webkit-text-stroke:.5px #fff;transform:scaleX(0.9307);transform-origin:right center;">18</div>
<div class="a " style="left:245.80px;top:296.40px;width:165.00px;height:45.60px;background:#00a0e3;border-radius:2.5px"></div>
<svg class="a" style="left:245.8px;top:296.4px" width="46" height="46" viewBox="0 0 46 46" fill="none" stroke="#fff" stroke-width="1.8" stroke-linecap="round" stroke-linejoin="round"><rect x="11.700" y="16.600" width="5.500" height="5.300"/><path d="M20.700 18.300 H28.900"/><path d="M20.700 22.100 H28.900"/><path d="M11.300 25.700 H28.900"/><path d="M11.300 29.700 H21.500"/></svg>
<div class="a w" style="top:315.70px;font-size:7.2px;left:283.60px;transform:scaleX(0.8709);transform-origin:left center;">TOPICS</div>
<div class="a w" style="top:307.55px;font-size:22.7px;right:411.80px;font-weight:bold;-webkit-text-stroke:.5px #fff;transform:scaleX(1.0495);transform-origin:right center;">49</div>
<div class="a " style="left:415.80px;top:296.40px;width:165.00px;height:45.60px;background:#00a0e3;border-radius:2.5px"></div>
<svg class="a" style="left:415.8px;top:296.4px" width="46" height="46" viewBox="0 0 46 46" fill="none" stroke="#fff" stroke-width="1.8" stroke-linecap="round" stroke-linejoin="round"><path d="M18.900 16.700 L10.600 21.100 L18.900 26.200 L28.900 21.100 Z"/><path d="M13.300 23.400 V28.400 C13.300 29.200 13.900 29.800 14.700 29.800 H23 C23.800 29.800 24.400 29.200 24.400 28.400 V23.600"/><path d="M28.900 21.100 V25.400"/></svg>
<div class="a w" style="top:315.70px;font-size:7.2px;left:453.60px;transform:scaleX(0.8290);transform-origin:left center;">TOTAL STUDENTS</div>
<div class="a w" style="top:307.55px;font-size:22.7px;right:241.80px;font-weight:bold;-webkit-text-stroke:.5px #fff;transform:scaleX(0.9030);transform-origin:right center;">14</div>
<div class="a " style="top:364.75px;font-size:11.1px;left:246.00px;color:#2f2f3a;font-weight:bold;transform:scaleX(0.9667);transform-origin:left center;">MOST POPULAR COURSES</div>
<div class="a " style="left:397.50px;top:369.80px;width:353.00px;height:1.00px;background:#e8e8ed"></div>
<div class="a card" style="left:246.00px;top:390.00px;width:504.50px;height:137.40px;"></div>
<div class="a th" style="left:246.00px;top:390.00px;width:504.50px;height:25.00px;"></div>
<div class="a w" style="top:398.50px;font-size:8.2px;left:255.00px;font-weight:bold;letter-spacing:-0.045px;">Course Name</div>
<div class="a w" style="top:398.50px;font-size:8.2px;left:614.00px;font-weight:bold;letter-spacing:-0.208px;">Enrolled</div>
<div class="a w" style="top:398.50px;font-size:8.2px;left:691.50px;font-weight:bold;letter-spacing:-0.022px;">Status</div>
<div class="a " style="top:425.70px;font-size:8.2px;left:254.70px;color:#55555f;letter-spacing:0.172px;">Android Java Masterclass - Become an App Developer</div>
<div class="a " style="top:425.70px;font-size:8.2px;left:614.00px;color:#55555f;">7</div>
<div class="a " style="left:691.80px;top:422.40px;width:50.20px;height:13.60px;background:#36a23c;border-radius:7px"></div>
<div class="a w" style="top:426.00px;font-size:7.4px;left:704.60px;font-weight:bold;transform:scaleX(0.8988);transform-origin:left center;">Publish</div>
<div class="a " style="left:246.00px;top:442.90px;width:504.50px;height:1.00px;background:#ececf0"></div>
<div class="a " style="top:453.90px;font-size:8.2px;left:254.70px;color:#55555f;letter-spacing:0.159px;">Build Your Own Online Store - No Coding Required!</div>
<div class="a " style="top:453.90px;font-size:8.2px;left:614.00px;color:#55555f;">6</div>
<div class="a " style="left:691.80px;top:450.60px;width:50.20px;height:13.60px;background:#36a23c;border-radius:7px"></div>
<div class="a w" style="top:454.20px;font-size:7.4px;left:704.60px;font-weight:bold;transform:scaleX(0.8988);transform-origin:left center;">Publish</div>
<div class="a " style="left:246.00px;top:470.90px;width:504.50px;height:1.00px;background:#ececf0"></div>
<div class="a " style="top:481.80px;font-size:8.2px;left:254.70px;color:#55555f;letter-spacing:0.245px;">Complete Financial Analyst Course</div>
<div class="a " style="top:481.80px;font-size:8.2px;left:614.00px;color:#55555f;">6</div>
<div class="a " style="left:691.80px;top:478.50px;width:50.20px;height:13.60px;background:#36a23c;border-radius:7px"></div>
<div class="a w" style="top:482.10px;font-size:7.4px;left:704.60px;font-weight:bold;transform:scaleX(0.8988);transform-origin:left center;">Publish</div>
<div class="a " style="left:246.00px;top:498.70px;width:504.50px;height:1.00px;background:#ececf0"></div>
<div class="a " style="top:509.80px;font-size:8.2px;left:254.70px;color:#55555f;letter-spacing:0.138px;">Think Like a Leader with Brian Tracy</div>
<div class="a " style="top:509.80px;font-size:8.2px;left:614.00px;color:#55555f;">4</div>
<div class="a " style="left:691.80px;top:506.50px;width:50.20px;height:13.60px;background:#36a23c;border-radius:7px"></div>
<div class="a w" style="top:510.10px;font-size:7.4px;left:704.60px;font-weight:bold;transform:scaleX(0.8988);transform-origin:left center;">Publish</div>
<div class="a " style="top:547.65px;font-size:11.1px;left:246.00px;color:#2f2f3a;font-weight:bold;transform:scaleX(0.9487);transform-origin:left center;">COURSE DETAILS</div>
<div class="a " style="left:347.00px;top:552.80px;width:403.50px;height:1.00px;background:#e8e8ed"></div>
<div class="a " style="left:246.00px;top:573.00px;width:504.50px;height:22.80px;background:#fff;border:1px solid #e3e3e9;border-radius:2px"></div>
<div class="a " style="top:581.55px;font-size:7.5px;left:250.70px;color:#3e3e4a;letter-spacing:0.235px;">Android Java Masterclass - Become an App Developer</div>
<div class="a tri" style="left:742.4px;top:583px"></div>
<div class="a card" style="left:246.00px;top:604.00px;width:504.50px;height:227.40px;"></div>
<div class="a ct" style="top:609.10px;font-size:9.6px;left:458.30px;letter-spacing:0.200px;">Course Progress</div>
<svg class="a" style="left:400px;top:620px" width="200" height="190" viewBox="400 620 200 190"><path d="M498.9 716.7 L498.9 639.9000000000001 A76.8 76.8 0 1 1 438.86 668.82 Z" fill="#46a5ca" stroke="#fff" stroke-width="1"/><path d="M496.47 711.65 L436.43 663.77 A76.8 76.8 0 0 1 496.47 634.85 Z" fill="#ea5c5c" stroke="#fff" stroke-width="1"/></svg>
<div class="a " style="left:413.30px;top:810.80px;width:6.80px;height:6.80px;border-radius:50%;background:#46a5ca"></div>
<div class="a lg" style="top:810.65px;font-size:7.3px;left:423.90px;letter-spacing:-0.021px;">Not Started</div>
<div class="a " style="left:475.20px;top:810.80px;width:6.80px;height:6.80px;border-radius:50%;background:#ea5c5c"></div>
<div class="a lg" style="top:810.65px;font-size:7.3px;left:485.80px;letter-spacing:0.068px;">In Progress</div>
<div class="a " style="left:537.20px;top:810.80px;width:6.80px;height:6.80px;border-radius:50%;background:#47a79c"></div>
<div class="a lg" style="top:810.65px;font-size:7.3px;left:547.80px;letter-spacing:-0.001px;">Completed</div>
<div class="a card" style="left:246.00px;top:850.20px;width:504.50px;height:288.70px;"></div>
<div class="a th" style="left:246.00px;top:850.20px;width:504.50px;height:30.80px;"></div>
<div class="a w" style="top:861.35px;font-size:8.5px;left:259.00px;font-weight:bold;letter-spacing:-0.234px;">STUDENT INFORMATION</div>
<div class="a " style="left:246.00px;top:881.00px;width:504.50px;height:21.60px;background:#fafafb"></div>
<div class="a " style="top:887.75px;font-size:8.3px;left:259.00px;color:#50505a;font-weight:bold;letter-spacing:0.248px;">Name</div>
<div class="a " style="top:887.75px;font-size:8.3px;left:396.40px;color:#50505a;font-weight:bold;letter-spacing:0.054px;">Total Steps</div>
<div class="a " style="top:887.75px;font-size:8.3px;left:476.00px;color:#50505a;font-weight:bold;letter-spacing:0.215px;">Completed Steps</div>
<div class="a " style="top:887.75px;font-size:8.3px;left:585.60px;color:#50505a;font-weight:bold;letter-spacing:-0.026px;">Progress %</div>
<div class="a " style="top:887.75px;font-size:8.3px;left:665.80px;color:#50505a;font-weight:bold;letter-spacing:0.275px;">Completed On</div>
<div class="a " style="left:246.00px;top:902.10px;width:504.50px;height:1.00px;background:#ececf0"></div>
<div class="a " style="top:911.17px;font-size:8.2px;left:259.00px;color:#55555f;letter-spacing:0.189px;">Arianna Julie</div>
<div class="a " style="top:911.17px;font-size:8.2px;left:396.40px;color:#55555f;transform:scaleX(0.7904);transform-origin:left center;">17</div>
<div class="a " style="top:911.17px;font-size:8.2px;left:476.40px;color:#55555f;transform:scaleX(1.1397);transform-origin:left center;">0</div>
<div class="a " style="top:908.75px;font-size:8.3px;left:585.60px;color:#55555f;transform:scaleX(1.0000);transform-origin:left center;">0%</div>
<div class="a " style="left:585.60px;top:918.80px;width:55.00px;height:3.20px;background:#ececef;border-radius:2px"></div>
<div class="a " style="left:246.00px;top:926.95px;width:504.50px;height:24.35px;background:#fafafb"></div>
<div class="a " style="left:246.00px;top:926.45px;width:504.50px;height:1.00px;background:#ececf0"></div>
<div class="a " style="top:935.52px;font-size:8.2px;left:259.00px;color:#55555f;letter-spacing:0.081px;">Jessica Sanders</div>
<div class="a " style="top:935.52px;font-size:8.2px;left:396.40px;color:#55555f;transform:scaleX(0.7904);transform-origin:left center;">17</div>
<div class="a " style="top:935.52px;font-size:8.2px;left:476.40px;color:#55555f;transform:scaleX(1.1397);transform-origin:left center;">0</div>
<div class="a " style="top:933.10px;font-size:8.3px;left:585.60px;color:#55555f;transform:scaleX(1.0000);transform-origin:left center;">0%</div>
<div class="a " style="left:585.60px;top:943.15px;width:55.00px;height:3.20px;background:#ececef;border-radius:2px"></div>
<div class="a " style="left:246.00px;top:950.80px;width:504.50px;height:1.00px;background:#ececf0"></div>
<div class="a " style="top:959.88px;font-size:8.2px;left:259.00px;color:#55555f;letter-spacing:0.111px;">Luna Stella</div>
<div class="a " style="top:959.88px;font-size:8.2px;left:396.40px;color:#55555f;transform:scaleX(0.7904);transform-origin:left center;">17</div>
<div class="a " style="top:959.88px;font-size:8.2px;left:476.40px;color:#55555f;transform:scaleX(1.1397);transform-origin:left center;">0</div>
<div class="a " style="top:957.45px;font-size:8.3px;left:585.60px;color:#55555f;transform:scaleX(1.0000);transform-origin:left center;">0%</div>
<div class="a " style="left:585.60px;top:967.50px;width:55.00px;height:3.20px;background:#ececef;border-radius:2px"></div>
<div class="a " style="left:246.00px;top:975.65px;width:504.50px;height:24.35px;background:#fafafb"></div>
<div class="a " style="left:246.00px;top:975.15px;width:504.50px;height:1.00px;background:#ececf0"></div>
<div class="a " style="top:984.23px;font-size:8.2px;left:259.00px;color:#55555f;letter-spacing:0.330px;">Mapoteri</div>
<div class="a " style="top:984.23px;font-size:8.2px;left:396.40px;color:#55555f;transform:scaleX(0.7904);transform-origin:left center;">17</div>
<div class="a " style="top:984.23px;font-size:8.2px;left:476.40px;color:#55555f;transform:scaleX(0.9002);transform-origin:left center;">14</div>
<div class="a " style="top:981.80px;font-size:8.3px;left:585.60px;color:#55555f;transform:scaleX(0.9814);transform-origin:left center;">82%</div>
<div class="a " style="left:585.60px;top:991.85px;width:55.00px;height:3.20px;background:#ececef;border-radius:2px"></div>
<div class="a " style="left:585.60px;top:991.85px;width:45.10px;height:3.20px;background:#6b5ec7;border-radius:2px"></div>
<div class="a " style="left:246.00px;top:999.50px;width:504.50px;height:1.00px;background:#ececf0"></div>
<div class="a " style="top:1008.57px;font-size:8.2px;left:259.00px;color:#55555f;letter-spacing:0.212px;">Charles</div>
<div class="a " style="top:1008.57px;font-size:8.2px;left:396.40px;color:#55555f;transform:scaleX(0.7904);transform-origin:left center;">17</div>
<div class="a " style="top:1008.57px;font-size:8.2px;left:476.40px;color:#55555f;transform:scaleX(1.1397);transform-origin:left center;">0</div>
<div class="a " style="top:1006.15px;font-size:8.3px;left:585.60px;color:#55555f;transform:scaleX(1.0000);transform-origin:left center;">0%</div>
<div class="a " style="left:585.60px;top:1016.20px;width:55.00px;height:3.20px;background:#ececef;border-radius:2px"></div>
<div class="a " style="left:246.00px;top:1024.35px;width:504.50px;height:24.35px;background:#fafafb"></div>
<div class="a " style="left:246.00px;top:1023.85px;width:504.50px;height:1.00px;background:#ececf0"></div>
<div class="a " style="top:1032.92px;font-size:8.2px;left:259.00px;color:#55555f;letter-spacing:0.145px;">Fashion studio</div>
<div class="a " style="top:1032.92px;font-size:8.2px;left:396.40px;color:#55555f;transform:scaleX(0.7904);transform-origin:left center;">17</div>
<div class="a " style="top:1032.92px;font-size:8.2px;left:476.40px;color:#55555f;transform:scaleX(1.1397);transform-origin:left center;">0</div>
<div class="a " style="top:1030.50px;font-size:8.3px;left:585.60px;color:#55555f;transform:scaleX(1.0000);transform-origin:left center;">0%</div>
<div class="a " style="left:585.60px;top:1040.55px;width:55.00px;height:3.20px;background:#ececef;border-radius:2px"></div>
<div class="a " style="left:246.00px;top:1048.20px;width:504.50px;height:1.00px;background:#ececf0"></div>
<div class="a " style="top:1057.28px;font-size:8.2px;left:259.00px;color:#55555f;letter-spacing:0.246px;">Liberty – A State of Mind</div>
<div class="a " style="top:1057.28px;font-size:8.2px;left:396.40px;color:#55555f;transform:scaleX(0.7904);transform-origin:left center;">17</div>
<div class="a " style="top:1057.28px;font-size:8.2px;left:476.40px;color:#55555f;transform:scaleX(1.1397);transform-origin:left center;">0</div>
<div class="a " style="top:1054.85px;font-size:8.3px;left:585.60px;color:#55555f;transform:scaleX(1.0000);transform-origin:left center;">0%</div>
<div class="a " style="left:585.60px;top:1064.90px;width:55.00px;height:3.20px;background:#ececef;border-radius:2px"></div>
<div class="a " style="left:246.00px;top:1072.55px;width:504.50px;height:1.00px;background:#ececf0"></div>
<div class="a " style="top:1087.60px;font-size:8.2px;left:259.00px;color:#55555f;letter-spacing:0.019px;">page <b style="color:#333">1</b> from 1</div>
<div class="a " style="left:259.00px;top:1105.40px;width:59.10px;height:22.20px;background:#1d76da;border-radius:2px"></div>
<div class="a w" style="top:1112.80px;font-size:8.0px;left:268.60px;font-weight:bold;letter-spacing:-0.382px;">Export CSV</div>
<div class="a " style="top:1159.85px;font-size:11.1px;left:246.00px;color:#2f2f3a;font-weight:bold;transform:scaleX(0.9284);transform-origin:left center;">STUDENT DETAILS</div>
<div class="a " style="left:350.40px;top:1165.00px;width:400.00px;height:1.00px;background:#e8e8ed"></div>
<div class="a " style="left:246.00px;top:1185.60px;width:504.50px;height:22.70px;background:#fff;border:1px solid #e3e3e9;border-radius:2px"></div>
<div class="a " style="top:1193.85px;font-size:7.5px;left:251.00px;color:#3e3e4a;letter-spacing:0.226px;">Arianna Julie</div>
<div class="a tri" style="left:742.4px;top:1195.5px"></div>
<div class="a card" style="left:246.20px;top:1221.00px;width:155.30px;height:170.20px;"></div>
<div class="a card" style="left:421.20px;top:1221.00px;width:154.60px;height:170.20px;"></div>
<div class="a card" style="left:595.20px;top:1221.00px;width:154.80px;height:170.20px;"></div>
<div class="a ct" style="top:1226.20px;font-size:9.6px;left:283.90px;letter-spacing:0.207px;">Course Progress</div>
<div class="a ct" style="top:1226.20px;font-size:9.6px;left:446.10px;letter-spacing:0.217px;">Assignment Progress</div>
<div class="a ct" style="top:1226.20px;font-size:9.6px;left:638.20px;letter-spacing:0.290px;">Quiz Progress</div>
<div class="a " style="left:280.70px;top:1256.60px;width:86.60px;height:86.60px;border-radius:50%;background:#46a5ca"></div>
<div class="a " style="left:323.60px;top:1256.60px;width:0.90px;height:43.30px;background:#cfe6f0"></div>
<div class="a " style="left:460.50px;top:1262.80px;width:76.00px;height:76.00px;border-radius:50%;background:#ea5c5c"></div>
<div class="a " style="left:498.10px;top:1262.80px;width:0.90px;height:38.00px;background:#f8d2d2"></div>
<div class="a " style="left:624.20px;top:1256.70px;width:96.70px;height:96.70px;border-radius:50%;background:#ea5a94"></div>
<div class="a " style="left:269.00px;top:1360.30px;width:6.80px;height:6.80px;border-radius:50%;background:#46a5ca"></div>
<div class="a lg" style="top:1360.15px;font-size:7.3px;left:279.60px;letter-spacing:-0.012px;">Not Started</div>
<div class="a " style="left:331.00px;top:1360.30px;width:6.80px;height:6.80px;border-radius:50%;background:#ea5c5c"></div>
<div class="a lg" style="top:1360.15px;font-size:7.3px;left:341.60px;letter-spacing:0.049px;">In Progress</div>
<div class="a " style="left:269.00px;top:1370.80px;width:6.80px;height:6.80px;border-radius:50%;background:#47a79c"></div>
<div class="a lg" style="top:1370.65px;font-size:7.3px;left:279.60px;letter-spacing:-0.001px;">Completed</div>
<div class="a " style="left:452.00px;top:1350.10px;width:6.80px;height:6.80px;border-radius:50%;background:#46a5ca"></div>
<div class="a lg" style="top:1349.95px;font-size:7.3px;left:462.60px;letter-spacing:0.051px;">Unapproved Assignment</div>
<div class="a " style="left:452.00px;top:1360.30px;width:6.80px;height:6.80px;border-radius:50%;background:#ea5c5c"></div>
<div class="a lg" style="top:1360.15px;font-size:7.3px;left:462.60px;letter-spacing:0.063px;">Pending Assignment</div>
<div class="a " style="left:452.00px;top:1370.80px;width:6.80px;height:6.80px;border-radius:50%;background:#47a79c"></div>
<div class="a lg" style="top:1370.65px;font-size:7.3px;left:462.60px;letter-spacing:0.083px;">Approved Assignment</div>
<div class="a " style="left:641.00px;top:1370.20px;width:6.80px;height:6.80px;border-radius:50%;background:#ea5a94"></div>
<div class="a lg" style="top:1370.05px;font-size:7.3px;left:651.60px;letter-spacing:0.044px;">No Quiz Started</div>
<div class="a card" style="left:246.20px;top:1411.00px;width:503.80px;height:87.80px;"></div>
<div class="a " style="top:1423.65px;font-size:8.3px;left:257.70px;color:#3a3950;-webkit-text-stroke:.2px #3a3950;letter-spacing:0.154px;">Android Java Masterclass – Become an App Developer</div>
<div class="a " style="top:1423.90px;font-size:6.8px;left:653.70px;color:#666670;letter-spacing:0.190px;">0/17 Steps</div>
<div class="a " style="top:1423.90px;font-size:6.8px;left:694.00px;color:#666670;letter-spacing:0.381px;">0% Complete</div>
<div class="a " style="left:257.70px;top:1433.90px;width:481.30px;height:3.40px;background:#ececef;border-radius:2px"></div>
<div class="a " style="top:1447.90px;font-size:8.2px;left:257.70px;color:#55555f;letter-spacing:0.019px;">page <b style="color:#333">1</b> from 1</div>
<div class="a " style="left:257.70px;top:1465.60px;width:59.10px;height:22.10px;background:#1d76da;border-radius:2px"></div>
<div class="a w" style="top:1472.70px;font-size:8.0px;left:267.30px;font-weight:bold;letter-spacing:-0.382px;">Export CSV</div>
<div class="a " style="left:0.00px;top:1533.50px;width:814.00px;height:2.50px;background:#eff0f4"></div>
</div>
</body>
</html>
